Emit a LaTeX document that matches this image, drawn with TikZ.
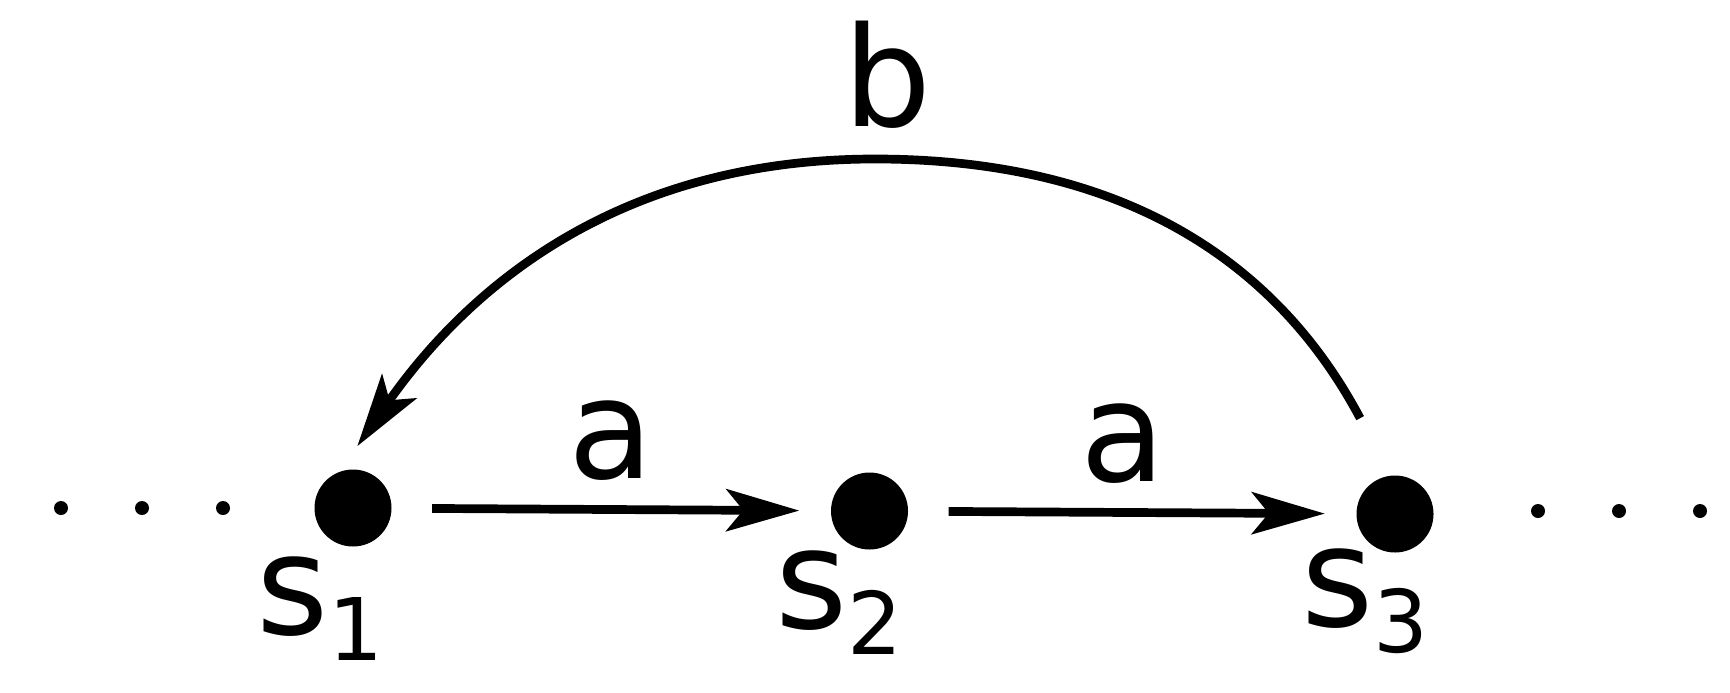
\documentclass[tikz,border=0pt]{standalone}
\usepackage{fontspec}
\setmainfont{DejaVu Sans}
\usetikzlibrary{arrows.meta,positioning}

\newcommand{\statesub}[1]{\raisebox{-0.26cm}{\fontsize{24.6pt}{29pt}\selectfont #1}}

\begin{document}
\begin{tikzpicture}[
    state/.style={circle,fill=black,inner sep=0pt,minimum size=0.77cm},
    gapdot/.style={circle,fill=black,inner sep=0pt,minimum size=0.14cm},
    lbl/.style={inner sep=0pt,outer sep=0pt,font=\fontsize{39.5pt}{47pt}\selectfont},
    trans/.style={-{Stealth[length=7.3mm,width=4.2mm,inset=1.7mm]},line width=0.087cm,shorten <=0.4cm,shorten >=0.31cm}
]
\useasboundingbox (0,0) rectangle (17.30,6.92);

% states
\node[state] (s1) at (3.53,1.84) {};
\node[state] (s2) at (8.695,1.81) {};
\node[state] (s3) at (13.95,1.78) {};

% dots on both sides
\foreach \i/\x in {1/0.61,2/1.42,3/2.23}
    \node[gapdot] (l\i) at (\x,1.84) {};
\foreach \i/\x in {1/15.38,2/16.19,3/17.00}
    \node[gapdot] (r\i) at (\x,1.81) {};

% state names
\node[lbl,anchor=base west] (s1lbl) at (2.565,0.58) {s\statesub{1}};
\node[lbl,anchor=base west] (s2lbl) at (7.755,0.64) {s\statesub{2}};
\node[lbl,anchor=base west] (s3lbl) at (13.015,0.66) {s\statesub{3}};

% transitions
\draw[trans] (s1) -- node[lbl,above=0.29cm] (a1) {a} (s2);
\draw[trans] (s2) -- node[lbl,above=0.29cm,pos=0.48] (a2) {a} (s3);

% back edge over the top
\coordinate (top) at (8.75,5.33);
\draw[trans,shorten <=0pt,shorten >=0pt] ([shift={(110:1.02)}]s3.center)
    to[out=118,in=0,out distance=1.6cm,in distance=2.67cm] (top)
    to[out=180,in=55,out distance=2.6cm,in distance=1.9cm] ([shift={(86:0.62)}]s1.center);
\node[lbl,anchor=base] (b) at (8.88,5.66) {b};
\end{tikzpicture}
\end{document}
